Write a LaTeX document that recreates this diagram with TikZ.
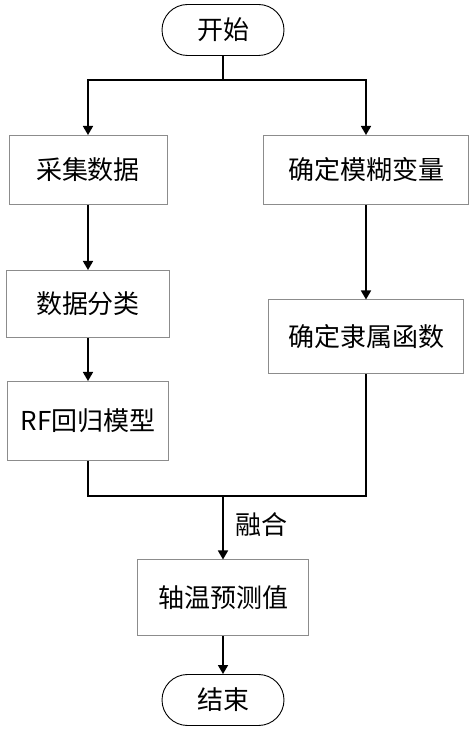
\documentclass[tikz,border=0pt]{standalone}
\usepackage{fontspec}
\newfontfamily\cjk{Noto Sans CJK SC}
\usepackage{tikz}
\usetikzlibrary{arrows.meta, positioning, shapes.misc}

\begin{document}
\begin{tikzpicture}[
    x=1pt, y=1pt,
    every node/.style={font=\cjk\fontsize{26}{30}\selectfont},
    term/.style={draw, rounded rectangle, line width=0.9pt, minimum width=126pt, minimum height=51pt, inner sep=2pt, align=center},
    proc/.style={draw=black!45, line width=1pt, minimum height=69pt, inner sep=2pt, align=center},
    ln/.style={line width=1.6pt},
    ar/.style={-{Triangle[length=9pt, width=10pt]}, line width=1.6pt}
]
\useasboundingbox (0,0) rectangle (474,732);
\node[term] (start) at (223,702) {开始};
\node[proc, minimum width=158pt] (collect) at (88,562) {采集数据};
\node[proc, minimum width=205pt] (fuzzyvar) at (366,562) {确定模糊变量};
\node[proc, minimum width=163pt, minimum height=67pt] (classify) at (88,428) {数据分类};
\node[proc, minimum width=161pt, minimum height=79pt] (rfmodel) at (88,311) {RF回归模型};
\node[proc, minimum width=195pt, minimum height=74pt] (member) at (366,395) {确定隶属函数};
\node[proc, minimum width=171pt, minimum height=76pt] (predict) at (223,134) {轴温预测值};
\node[term] (finish) at (223,32) {结束};
\coordinate (split) at (223,652);
\coordinate (merge) at (223,236);
\draw[ln] (start) -- (split);
\draw[ar] (split) -| (collect.north);
\draw[ar] (split) -| (fuzzyvar.north);
\draw[ar] (collect) -- (classify);
\draw[ar] (classify) -- (rfmodel);
\draw[ar] (fuzzyvar) -- (member);
\draw[ln] (rfmodel.south) |- (merge);
\draw[ln] (member.south) |- (merge);
\draw[ar] (merge) -- node[right=8pt, pos=0.45]{融合} (predict.north);
\draw[ar] (predict) -- (finish);
\end{tikzpicture}
\end{document}
